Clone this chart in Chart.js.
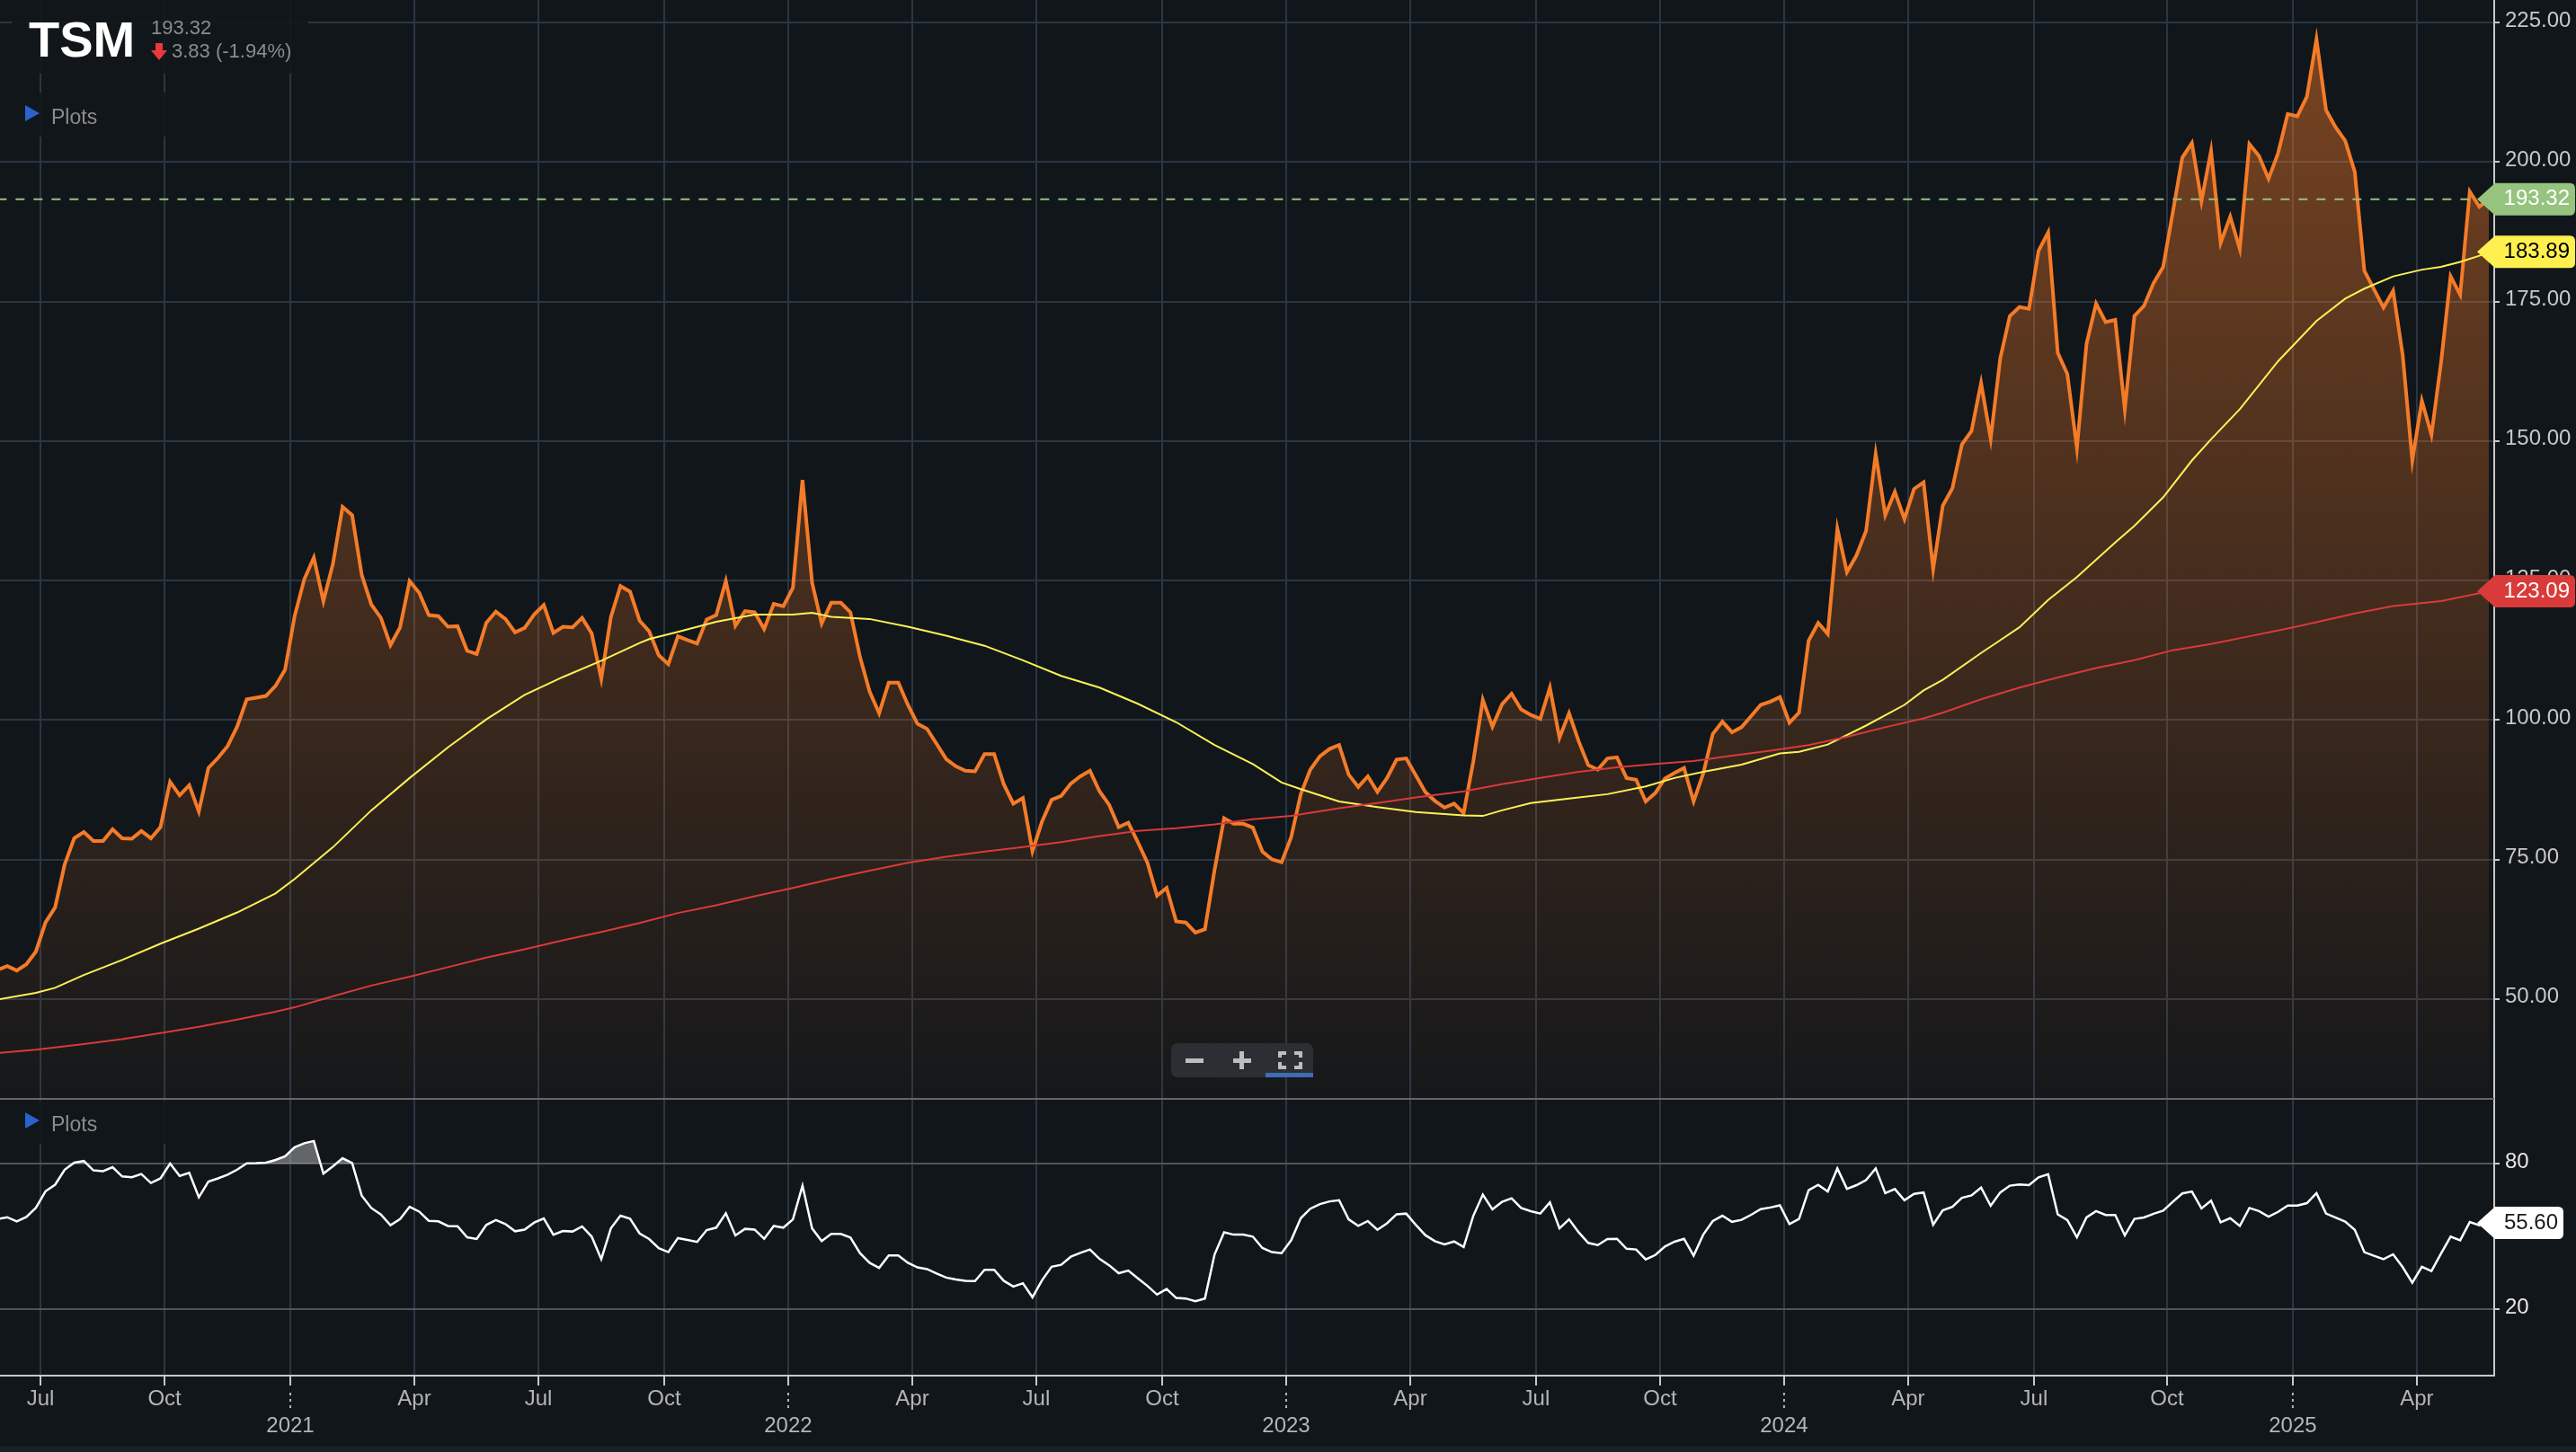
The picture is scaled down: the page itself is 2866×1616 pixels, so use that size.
<!DOCTYPE html>
<html>
<head>
<meta charset="utf-8">
<title>TSM</title>
<script src="https://cdn.jsdelivr.net/npm/chart.js@4/dist/chart.umd.min.js"></script>
<style>
  html, body { margin: 0; padding: 0; background: #11161a; overflow: hidden; }
  body { width: 2866px; height: 1616px; position: relative; font-family: "Liberation Sans", Arial, sans-serif; }
  canvas { position: absolute; left: 0; }
  #priceChart { top: 0; }
  #rsiChart { top: 1223px; }
  .abs { position: absolute; white-space: nowrap; }
  .mask { position: absolute; background: rgba(17, 22, 26, 0.85); }
  .grey { color: #8c8c8c; }
  #divider { position: absolute; left: 0; top: 1222px; width: 2775px; height: 2px; background: #666; }
  #footer { position: absolute; left: 0; top: 1610px; width: 2866px; height: 6px; background: #18202a; }
</style>
</head>
<body>
<canvas id="priceChart" width="2866" height="1223"></canvas>
<canvas id="rsiChart" width="2866" height="393"></canvas>
<div id="divider"></div>
<div id="footer"></div>

<div class="mask" style="left:13px;top:0;width:330px;height:82px"></div>
<div class="mask" style="left:13px;top:103px;width:190px;height:49px"></div>
<div class="mask" style="left:13px;top:1225px;width:190px;height:48px"></div>

<div class="abs" style="left:32px;top:12px;font-size:56px;line-height:64px;font-weight:bold;color:#fff">TSM</div>
<div class="abs grey" style="left:168px;top:18px;font-size:22px;line-height:26px">193.32</div>
<svg class="abs" style="left:168px;top:48px" width="18" height="19"><path d="M5 0h8v8h5L9 19 0 8h5z" fill="#e83a3a"/></svg>
<div class="abs grey" style="left:191px;top:44px;font-size:22px;line-height:26px">3.83 (-1.94%)</div>

<svg class="abs" style="left:28px;top:117px" width="16" height="18"><path d="M0 0l16 9L0 18z" fill="#2a62d0"/></svg>
<div class="abs grey" style="left:57px;top:116px;font-size:23px;line-height:28px">Plots</div>
<svg class="abs" style="left:28px;top:1238px" width="16" height="18"><path d="M0 0l16 9L0 18z" fill="#2a62d0"/></svg>
<div class="abs grey" style="left:57px;top:1237px;font-size:23px;line-height:28px">Plots</div>

<svg class="abs" style="left:1303px;top:1161px" width="158" height="38">
  <rect width="158" height="38" rx="7" fill="#2b2f33"/>
  <rect x="105" y="33" width="53" height="5" fill="#3d6cb4"/>
  <rect x="16" y="17" width="20" height="5" fill="#bdbdbd"/>
  <rect x="69" y="17" width="20" height="5" fill="#bdbdbd"/>
  <rect x="76" y="9" width="5" height="20" fill="#bdbdbd"/>
  <path d="M121 16v-5h7M137 11h7v5M121 21v6h7M137 27h7v-6" fill="none" stroke="#bdbdbd" stroke-width="4"/>
</svg>

<script>
// weekly closes, first point sits just off the left edge
const closes = [
  55.2, 55.9, 55.1, 56.2, 58.5, 63.7, 66.4, 74.1, 78.8, 79.9,
  78.3, 78.3, 80.4, 78.8, 78.7, 80.1, 78.8, 80.8, 88.9, 86.5,
  88.3, 83.6, 91.4, 93.2, 95.3, 98.8, 103.7, 104, 104.3, 106.1,
  109, 118.6, 125.2, 129.1, 121.3, 128, 138.2, 136.7, 126, 120.7,
  118.3, 113.4, 116.6, 124.9, 122.8, 118.8, 118.6, 116.7, 116.8, 112.4,
  111.8, 117.4, 119.4, 118.1, 115.7, 116.5, 118.9, 120.6, 115.6, 116.7,
  116.6, 118.3, 115.5, 107.4, 118.4, 124, 123, 117.8, 115.9, 111.6,
  110, 115, 114.3, 113.7, 118, 118.8, 124.9, 116.9, 119.5, 119.3,
  116.3, 120.8, 120.4, 123.7, 143, 124.6, 117.3, 121, 121, 119.3,
  111.3, 105.1, 101.2, 106.7, 106.7, 102.7, 99.3, 98.4, 95.7, 93,
  91.7, 90.9, 90.8, 93.9, 93.9, 88.5, 85, 86, 76.5, 81.8,
  85.7, 86.4, 88.6, 89.9, 90.9, 87.2, 84.8, 80.8, 81.6, 78.1,
  74.4, 68.5, 69.9, 63.9, 63.7, 61.9, 62.5, 73.1, 82.4, 81.4,
  81.4, 80.7, 76.4, 75, 74.5, 79, 86.7, 91.1, 93.5, 94.8,
  95.5, 90.2, 88, 89.9, 87.1, 89.6, 92.9, 93.1, 90.1, 87.1,
  85.5, 84.3, 85, 83.3, 92.5, 103.6, 98.8, 102.8, 104.7, 101.9,
  100.9, 100.2, 105.8, 96.8, 101.2, 96.2, 91.9, 91.1, 93.1, 93.3,
  89.6, 89.3, 85.4, 86.9, 89.5, 90.5, 91.4, 85.4, 90.4, 97.5,
  99.7, 97.8, 98.7, 100.7, 102.7, 103.3, 104.1, 99.5, 101.3, 114.2,
  117.4, 115.4, 134.3, 126.5, 129.5, 133.9, 147.7, 136.7, 140.9, 136,
  141.4, 142.6, 127, 138.4, 141.5, 149.4, 151.8, 160.4, 150.4, 164.8,
  172.4, 174, 173.7, 184.1, 187.4, 165.8, 162, 148.7, 167.4, 174.6,
  171.3, 171.7, 155.7, 172.4, 174.2, 178.3, 181.2, 190.9, 200.8, 203.4,
  193, 202, 185.5, 190.2, 184.4, 203.2, 201.1, 197, 201.6, 208.6,
  208.2, 211.7, 222, 209.3, 206.2, 203.8, 198.2, 180.5, 177.2, 173.9,
  176.9, 165.4, 146.5, 157.2, 151.1, 164, 179.5, 176.2, 194.7, 192,
  193.32
];

const rsi = [
  57.1, 57.9, 56.2, 58, 61.8, 68.6, 71.3, 77.5, 80.4, 81.1,
  77.2, 76.9, 78.5, 74.7, 74.4, 75.7, 72, 73.9, 80, 74.9,
  76.2, 66.1, 72.6, 73.9, 75.4, 77.5, 80.1, 80.2, 80.4, 81.5,
  83, 86.7, 88.4, 89.3, 75.9, 78.9, 82.2, 80.2, 66.8, 61.7,
  59, 54.6, 57.1, 62.2, 60.2, 56.4, 56.2, 54.3, 54.2, 49.6,
  48.9, 54.7, 56.7, 55.1, 52.1, 52.8, 55.7, 57.4, 50.7, 52.2,
  52, 54.1, 49.9, 40.6, 53.3, 58.5, 57.3, 51.2, 48.9, 45.1,
  43.5, 49.3, 48.5, 47.7, 52.6, 53.6, 59.5, 50.4, 53.1, 52.8,
  49, 54.3, 53.6, 57, 70.9, 53.3, 48.1, 51, 51, 49.5,
  43.1, 39.1, 37, 42.1, 42.1, 39.1, 37.2, 36.5, 34.7, 33,
  32.2, 31.7, 31.6, 36.2, 36.2, 31.7, 29.3, 30.7, 24.9, 31.9,
  37.5, 38.3, 41.6, 43.2, 44.6, 40.7, 38.1, 34.8, 35.9, 32.7,
  29.6, 26, 28.3, 24.6, 24.4, 23.3, 24.4, 42.5, 51.7, 50.7,
  50.7, 49.9, 45.2, 43.5, 43.1, 48.4, 57.5, 61.4, 63.3, 64.4,
  64.9, 57, 54.3, 56.3, 52.7, 55.4, 59.1, 59.4, 54.8, 50.5,
  48, 46.7, 47.9, 45.6, 58.4, 67.2, 61.1, 64.2, 65.7, 61.7,
  60.4, 59.4, 64, 53.3, 57, 51.7, 47.3, 46.4, 48.9, 49,
  44.9, 44.6, 40.5, 42.3, 45.8, 47.8, 49, 42, 50.7, 56.3,
  58.5, 56, 56.8, 58.9, 61.2, 61.9, 62.8, 55.1, 57.2, 69,
  71.2, 68.5, 78, 69.6, 71.1, 73.2, 78, 67.8, 69.5, 64.9,
  67.5, 68.1, 54.8, 60.7, 62.2, 65.9, 66.9, 70.1, 62.6, 68.1,
  70.9, 71.4, 71.1, 74.3, 75.6, 59.1, 56.7, 49.6, 57.8, 60.4,
  58.8, 58.8, 50.4, 57.2, 57.8, 59.3, 60.6, 64.2, 67.7, 68.5,
  61.5, 64.7, 55.8, 57.5, 54.3, 61.7, 60.4, 58.1, 60.1, 62.7,
  62.7, 63.7, 67.8, 59.4, 57.7, 56.1, 52.7, 43.5, 42, 40.6,
  42.6, 37.3, 30.9, 37.5, 35.7, 42.9, 49.9, 48.4, 55.9, 54.6,
  55.6
];

// moving averages read every few weeks
const fastWeeks = [0, 4, 6, 9, 13, 17, 21, 25, 29, 31, 35, 39, 43, 47, 51, 55, 59, 63, 67, 68, 71, 75, 79, 83, 85, 87, 91, 95, 99, 103, 107, 111, 115, 119, 123, 127, 131, 134, 136, 140, 144, 148, 153, 155, 157, 160, 164, 168, 172, 175, 178, 182, 186, 188, 191, 195, 199, 201, 203, 207, 209, 211, 214, 217, 221, 223, 226, 229, 231, 234, 238, 242, 245, 247, 250, 253, 255, 257, 259, 260];
const fastAverage = [49.9, 51.1, 52, 54.3, 57, 59.9, 62.6, 65.5, 68.9, 71.5, 77.2, 83.8, 89.6, 95.1, 100.1, 104.5, 107.7, 110.6, 113.8, 114.5, 115.8, 117.6, 118.9, 118.9, 119.2, 118.5, 118.1, 116.7, 115.1, 113.3, 110.7, 107.9, 105.8, 102.9, 99.6, 95.5, 92.1, 88.8, 87.6, 85.4, 84.4, 83.5, 82.9, 82.8, 83.8, 85.1, 85.9, 86.7, 88.1, 89.6, 90.7, 92, 94, 94.3, 95.6, 99, 102.7, 105.3, 107.2, 112, 114.3, 116.6, 121.5, 125.6, 131.8, 134.8, 139.9, 146.5, 150.3, 155.7, 164.3, 171.5, 175.5, 177.3, 179.5, 180.7, 181.2, 182.1, 183.2, 183.89];

const slowWeeks = [0, 4, 9, 13, 17, 21, 25, 29, 31, 35, 39, 43, 47, 51, 55, 59, 63, 67, 71, 75, 79, 83, 87, 91, 95, 99, 103, 107, 111, 115, 119, 123, 127, 131, 135, 140, 144, 148, 153, 157, 161, 165, 169, 173, 177, 181, 185, 189, 193, 197, 201, 203, 207, 211, 215, 219, 223, 227, 231, 235, 239, 242, 246, 250, 255, 259, 260];
const slowAverage = [40.3, 40.9, 41.9, 42.8, 43.9, 45, 46.3, 47.7, 48.5, 50.5, 52.4, 54, 55.7, 57.4, 58.9, 60.5, 62, 63.6, 65.4, 66.8, 68.4, 69.9, 71.5, 73, 74.4, 75.5, 76.4, 77.2, 78.1, 79.2, 80.1, 80.6, 81.3, 82.2, 82.8, 84.2, 85.1, 86.1, 87.2, 88.5, 89.6, 90.7, 91.5, 92.1, 92.65, 93.6, 94.5, 95.5, 97, 98.7, 100.3, 101.3, 103.7, 105.8, 107.6, 109.3, 110.7, 112.5, 113.6, 115, 116.4, 117.5, 119.1, 120.4, 121.3, 122.7, 123.09];

// months fall between the weekly points
const tickWeeks = [4.47, 17.42, 30.55, 43.49, 56.44, 69.57, 82.51, 95.46, 108.4, 121.53, 134.48, 147.42, 160.55, 173.5, 186.44, 199.38, 212.52, 226.4, 239.53, 252.47];
const tickLabels = ['Jul', 'Oct', '2021', 'Apr', 'Jul', 'Oct', '2022', 'Apr', 'Jul', 'Oct', '2023', 'Apr', 'Jul', 'Oct', '2024', 'Apr', 'Jul', 'Oct', '2025', 'Apr'];
const priceTicks = [50, 75, 100, 125, 150, 175, 200, 225];
const rsiTicks = [20, 80];

const lastClose = 193.32;
const lastFast = 183.89;
const lastSlow = 123.09;
const lastRsi = 55.6;

const pairs = (weeks, values) => weeks.map((w, i) => ({ x: w, y: values[i] }));
const byIndex = values => values.map((v, i) => ({ x: i, y: v }));

Chart.defaults.font.family = '"Liberation Sans", Arial, sans-serif';
Chart.defaults.font.size = 24;
Chart.defaults.animation = false;

const noPadding = scale => {
  scale.paddingTop = 0;
  scale.paddingBottom = 0;
  scale.paddingLeft = 0;
  scale.paddingRight = 0;
};

// value tag with a pointed left side, sits on the y axis
const tagPlugin = {
  id: 'tags',
  afterDraw(chart, args, opts) {
    const ctx = chart.ctx;
    const scale = chart.scales.y;
    (opts.items || []).forEach(tag => {
      const y = scale.getPixelForValue(tag.value);
      const r = 6, tip = 2756, shoulder = 2776, h = 18;
      ctx.save();
      ctx.beginPath();
      ctx.moveTo(tip, y);
      ctx.lineTo(shoulder, y - h);
      ctx.lineTo(tag.right - r, y - h);
      ctx.quadraticCurveTo(tag.right, y - h, tag.right, y - h + r);
      ctx.lineTo(tag.right, y + h - r);
      ctx.quadraticCurveTo(tag.right, y + h, tag.right - r, y + h);
      ctx.lineTo(shoulder, y + h);
      ctx.closePath();
      ctx.fillStyle = tag.fill;
      ctx.fill();
      ctx.fillStyle = tag.color;
      ctx.font = '24px "Liberation Sans", Arial, sans-serif';
      ctx.textAlign = 'right';
      ctx.textBaseline = 'middle';
      ctx.fillText(tag.value.toFixed(2), tag.right - 6, y);
      ctx.restore();
    });
  }
};

// dotted stub under the year ticks
const yearMarks = {
  id: 'yearMarks',
  afterDraw(chart) {
    const ctx = chart.ctx;
    const x = chart.scales.x;
    tickWeeks.forEach((week, i) => {
      if (tickLabels[i].length !== 4) return;
      const px = x.getPixelForValue(week);
      ctx.save();
      ctx.strokeStyle = '#b5b5b5';
      ctx.lineWidth = 2;
      ctx.setLineDash([3, 4]);
      ctx.beginPath();
      ctx.moveTo(px, x.top + 19);
      ctx.lineTo(px, x.top + 38);
      ctx.stroke();
      ctx.restore();
    });
  }
};

const xRange = { min: 0.25, max: 260.55 };
const gridBlue = '#2a3644';
const axisGrey = '#c8c8c8';

function areaFill(context) {
  const { ctx, chartArea } = context.chart;
  if (!chartArea) return 'transparent';
  const g = ctx.createLinearGradient(0, chartArea.top, 0, chartArea.bottom);
  g.addColorStop(0, 'rgba(243, 122, 42, 0.47)');
  g.addColorStop(1, 'rgba(243, 122, 42, 0.02)');
  return g;
}

new Chart(document.getElementById('priceChart'), {
  type: 'line',
  plugins: [tagPlugin],
  data: {
    datasets: [
      {
        label: 'Last',
        data: [{ x: 0, y: lastClose }, { x: 260, y: lastClose }],
        borderColor: '#96c37d',
        borderWidth: 2,
        borderDash: [10, 10],
        pointRadius: 0,
        order: 0
      },
      {
        label: 'Slow average',
        data: pairs(slowWeeks, slowAverage),
        borderColor: '#d93a3a',
        borderWidth: 2,
        pointRadius: 0,
        order: 1
      },
      {
        label: 'Fast average',
        data: pairs(fastWeeks, fastAverage),
        borderColor: '#fdf156',
        borderWidth: 2,
        pointRadius: 0,
        order: 2
      },
      {
        label: 'TSM',
        data: byIndex(closes),
        borderColor: '#f47b28',
        borderWidth: 4,
        borderJoinStyle: 'miter',
        pointRadius: 0,
        fill: 'start',
        backgroundColor: areaFill,
        order: 3
      }
    ]
  },
  options: {
    responsive: false,
    devicePixelRatio: 1,
    layout: { padding: 0 },
    plugins: {
      legend: { display: false },
      tooltip: { enabled: false },
      tags: {
        items: [
          { value: lastClose, fill: '#96c37d', color: '#ffffff', right: 2865 },
          { value: lastFast, fill: '#fdf04f', color: '#000000', right: 2865 },
          { value: lastSlow, fill: '#d93a3a', color: '#ffffff', right: 2865 }
        ]
      }
    },
    scales: {
      x: {
        type: 'linear',
        bounds: 'data',
        min: xRange.min,
        max: xRange.max,
        afterBuildTicks: s => { s.ticks = tickWeeks.map(v => ({ value: v })); },
        afterFit: s => { s.height = 0; noPadding(s); },
        ticks: { display: false },
        border: { display: false },
        grid: { color: gridBlue, lineWidth: 2, drawTicks: false }
      },
      y: {
        position: 'right',
        bounds: 'data',
        min: 32.09,
        max: 229.03,
        afterBuildTicks: s => { s.ticks = priceTicks.map(v => ({ value: v })); },
        afterFit: s => { s.width = 91; noPadding(s); },
        border: { color: axisGrey, width: 2 },
        grid: { color: gridBlue, lineWidth: 2, tickColor: axisGrey, tickLength: 6 },
        ticks: {
          color: axisGrey,
          padding: 6,
          // blank second line lifts the label 2px off the tick
          font: { size: 24, lineHeight: '4px' },
          callback: v => [v.toFixed(2), '']
        }
      }
    }
  }
});

new Chart(document.getElementById('rsiChart'), {
  type: 'line',
  plugins: [tagPlugin, yearMarks],
  data: {
    datasets: [{
      label: 'RSI',
      data: byIndex(rsi),
      borderColor: '#ffffff',
      borderWidth: 2.5,
      pointRadius: 0,
      fill: { value: 80, above: 'rgba(200, 200, 200, 0.45)', below: 'transparent' }
    }]
  },
  options: {
    responsive: false,
    devicePixelRatio: 1,
    layout: { padding: 0 },
    plugins: {
      legend: { display: false },
      tooltip: { enabled: false },
      tags: {
        items: [{ value: lastRsi, fill: '#ffffff', color: '#1a1a1a', right: 2852 }]
      }
    },
    scales: {
      x: {
        type: 'linear',
        bounds: 'data',
        min: xRange.min,
        max: xRange.max,
        afterBuildTicks: s => { s.ticks = tickWeeks.map(v => ({ value: v })); },
        afterFit: s => { s.height = 85; noPadding(s); },
        border: { color: axisGrey, width: 2 },
        grid: { color: gridBlue, lineWidth: 2, tickColor: axisGrey, tickLength: 11 },
        ticks: {
          color: '#b5b5b5',
          padding: 0,
          autoSkip: false,
          maxRotation: 0,
          font: { size: 24, lineHeight: 1.25 },
          callback: (v, i) => tickLabels[i].length === 4 ? ['', tickLabels[i]] : tickLabels[i]
        }
      },
      y: {
        position: 'right',
        bounds: 'data',
        min: -7.4,
        max: 106.67,
        afterBuildTicks: s => { s.ticks = rsiTicks.map(v => ({ value: v })); },
        afterFit: s => { s.width = 91; noPadding(s); },
        border: { color: axisGrey, width: 2 },
        grid: { color: '#50545a', lineWidth: 2, tickColor: axisGrey, tickLength: 6 },
        ticks: {
          color: '#e6e6e6',
          padding: 6,
          font: { size: 24, lineHeight: '4px' },
          callback: v => [String(v), '']
        }
      }
    }
  }
});
</script>
</body>
</html>
